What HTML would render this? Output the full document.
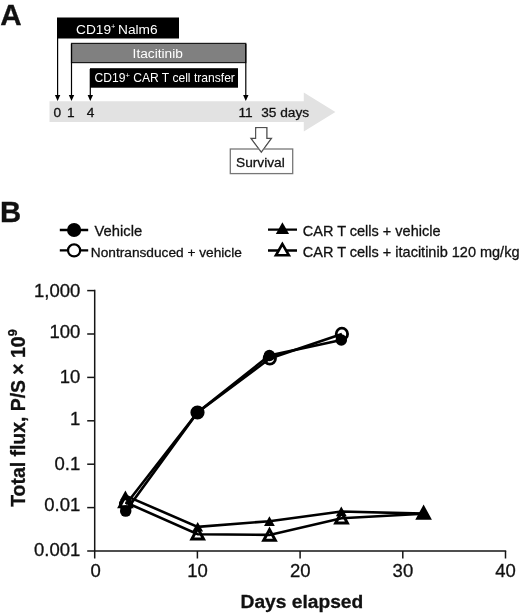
<!DOCTYPE html>
<html><head><meta charset="utf-8"><title>Figure</title>
<style>
html,body{margin:0;padding:0;background:#fff;}
body{width:520px;height:615px;overflow:hidden;}
svg{display:block;}
text{font-family:"Liberation Sans",Arial,Helvetica,sans-serif;fill:#111;stroke:#111;stroke-width:0.3px;}
.w{stroke:none;}
.tk{font-size:18.5px;}
.pa{font-size:13.7px;}
.lg{font-size:13.7px;}
.w{fill:#fff;}
.b{font-weight:bold;}
</style></head><body>
<svg width="520" height="615" viewBox="0 0 520 615">
<rect width="520" height="615" fill="#fff"/>
<!-- Panel A -->
<text x="0.3" y="25" class="b" style="font-size:29.6px">A</text>
<polygon points="49.5,101.3 303.8,101.3 303.8,92.4 335.4,112 303.8,131.6 303.8,121.9 49.5,121.9" fill="#e2e2e2"/>
<rect x="57" y="17.5" width="122" height="21" fill="#000"/>
<text x="76" y="33.7" class="pa w">CD19<tspan dy="-4.8" font-size="7.5">+</tspan><tspan dy="4.8" dx="-1.2"> Nalm6</tspan></text>
<rect x="71.5" y="43.4" width="174.3" height="19.2" fill="#808080" stroke="#1a1a1a" stroke-width="1.2"/>
<text x="157.7" y="58" text-anchor="middle" class="pa w">Itacitinib</text>
<rect x="90" y="68.2" width="148" height="19.5" fill="#000"/>
<text x="94.5" y="82" class="w" style="font-size:12.1px">CD19<tspan dy="-4" font-size="7.5">+</tspan><tspan dy="4"> CAR T cell transfer</tspan></text>
<path d="M57.6,18 V96.9" stroke="#000" stroke-width="1.2" fill="none"/><polygon points="54.9,95.10000000000001 60.300000000000004,95.10000000000001 57.6,100.9" fill="#000"/>
<path d="M71.5,44 V96.9" stroke="#000" stroke-width="1.2" fill="none"/><polygon points="68.8,95.10000000000001 74.2,95.10000000000001 71.5,100.9" fill="#000"/>
<path d="M90.3,69 V96.9" stroke="#000" stroke-width="1.2" fill="none"/><polygon points="87.6,95.10000000000001 93.0,95.10000000000001 90.3,100.9" fill="#000"/>
<path d="M245.8,44 V96.9" stroke="#000" stroke-width="1.2" fill="none"/><polygon points="243.10000000000002,95.10000000000001 248.5,95.10000000000001 245.8,100.9" fill="#000"/>
<text x="53.6" y="117.2" class="pa">0</text>
<text x="67" y="117.2" class="pa">1</text>
<text x="86.7" y="117.2" class="pa">4</text>
<text x="238.4" y="117.2" class="pa">11</text>
<text x="261.2" y="117.2" class="pa">35 days</text>
<polygon points="255.8,127.7 266.8,127.7 266.8,138.5 271.2,138.5 261.3,152 251.2,138.5 255.8,138.5" fill="#fff" stroke="#505050" stroke-width="1.5"/>
<rect x="230.3" y="149" width="62.4" height="24.6" fill="none" stroke="#777" stroke-width="1.3"/>
<polygon points="256.4,128.3 266.2,128.3 266.2,139.1 270,139.1 261.3,151 252.4,139.1 256.4,139.1" fill="#fff"/>
<text x="236" y="167" class="pa">Survival</text>
<!-- Panel B -->
<text x="0" y="222.2" class="b" style="font-size:29.3px">B</text>
<path d="M59.8,230 H88.2 M59.8,250.4 H88.2 M268,229.6 H297 M268,250.5 H297" stroke="#000" stroke-width="2.3" fill="none"/>
<circle cx="74.1" cy="230" r="7.1" fill="#000"/>
<circle cx="74.1" cy="250.4" r="6.05" fill="#fff" stroke="#000" stroke-width="2.2"/>
<polygon points="282.4,222.2 275.8,233.9 289.1,233.9" fill="#000"/>
<polygon points="282.4,244.0 275.9,255.3 288.9,255.3" fill="#fff" stroke="#000" stroke-width="2.6" stroke-linejoin="miter"/>
<text x="94.6" y="236" class="lg" style="font-size:14.75px">Vehicle</text>
<text x="90.8" y="256.6" class="lg">Nontransduced + vehicle</text>
<text x="302.8" y="236" class="lg" style="font-size:14.5px">CAR T cells + vehicle</text>
<text x="302.8" y="256.6" class="lg" style="font-size:14.5px">CAR T cells + itacitinib 120 mg/kg</text>
<path d="M94.7,289.85 V558.5" stroke="#151515" stroke-width="1.5" fill="none"/>
<path d="M87.2,551.0 H506.2" stroke="#151515" stroke-width="1.5" fill="none"/>
<path d="M87.2,290.6 H94.7" stroke="#151515" stroke-width="1.5"/>
<text x="80.3" y="297.3" text-anchor="end" class="tk">1,000</text>
<path d="M87.2,334.0 H94.7" stroke="#151515" stroke-width="1.5"/>
<text x="80.3" y="338.0" text-anchor="end" class="tk">100</text>
<path d="M87.2,377.4 H94.7" stroke="#151515" stroke-width="1.5"/>
<text x="80.3" y="383.4" text-anchor="end" class="tk">10</text>
<path d="M87.2,420.8 H94.7" stroke="#151515" stroke-width="1.5"/>
<text x="80.3" y="425.2" text-anchor="end" class="tk">1</text>
<path d="M87.2,464.2 H94.7" stroke="#151515" stroke-width="1.5"/>
<text x="80.3" y="469.7" text-anchor="end" class="tk">0.1</text>
<path d="M87.2,507.6 H94.7" stroke="#151515" stroke-width="1.5"/>
<text x="80.3" y="511.0" text-anchor="end" class="tk">0.01</text>
<text x="80.3" y="555.5" text-anchor="end" class="tk">0.001</text>
<path d="M197.4,551.0 V558.5" stroke="#151515" stroke-width="1.5"/>
<path d="M300.1,551.0 V558.5" stroke="#151515" stroke-width="1.5"/>
<path d="M402.8,551.0 V558.5" stroke="#151515" stroke-width="1.5"/>
<path d="M505.5,551.0 V558.5" stroke="#151515" stroke-width="1.5"/>
<text x="95.6" y="577.1" text-anchor="middle" class="tk">0</text>
<text x="197.5" y="577.1" text-anchor="middle" class="tk">10</text>
<text x="300.2" y="577.1" text-anchor="middle" class="tk">20</text>
<text x="402.9" y="577.1" text-anchor="middle" class="tk">30</text>
<text x="505.6" y="577.1" text-anchor="middle" class="tk">40</text>
<text transform="translate(24.6,506.8) rotate(-90)" class="b" style="font-size:19.4px">Total flux, P/S × 10<tspan dy="-8" font-size="12.5">9</tspan></text>
<text x="240.6" y="608" class="b" style="font-size:19.2px">Days elapsed</text>
<polyline points="125.4,502.2 197.7,534.3 269.5,534.9 341.5,518.3 423.6,513.7" fill="none" stroke="#000" stroke-width="2.6"/>
<polyline points="125.4,495.6 197.7,526.9 269.4,521.2 341.3,511.5 423.6,513.6" fill="none" stroke="#000" stroke-width="2.6"/>
<polyline points="126.0,504.2 197.5,412.5 269.8,358.5 341.9,333.9" fill="none" stroke="#000" stroke-width="2.6"/>
<polyline points="125.7,511.1 197.5,412.5 269.4,355.5 341.3,340.0" fill="none" stroke="#000" stroke-width="2.6"/>
<polygon points="125.4,496.1 119.6,506.8 131.2,506.8" fill="none" stroke="#000" stroke-width="3.0" stroke-linejoin="miter"/>
<polygon points="197.7,528.2 191.9,538.9 203.5,538.9" fill="none" stroke="#000" stroke-width="3.0" stroke-linejoin="miter"/>
<polygon points="269.5,529.6 263.7,540.3 275.3,540.3" fill="none" stroke="#000" stroke-width="3.0" stroke-linejoin="miter"/>
<polygon points="341.5,512.2 335.7,522.9 347.3,522.9" fill="none" stroke="#000" stroke-width="3.0" stroke-linejoin="miter"/>
<polygon points="423.6,507.6 417.8,518.3 429.4,518.3" fill="none" stroke="#000" stroke-width="3.0" stroke-linejoin="miter"/>
<polygon points="125.4,490.6 120.0,500.3 130.8,500.3" fill="#000"/>
<polygon points="197.7,521.9 192.3,531.6 203.1,531.6" fill="#000"/>
<polygon points="269.4,516.2 264.0,525.9 274.8,525.9" fill="#000"/>
<polygon points="341.3,506.5 335.9,516.2 346.7,516.2" fill="#000"/>
<polygon points="423.6,508.6 418.2,518.3 429.0,518.3" fill="#000"/>
<circle cx="126.0" cy="504.2" r="5.7" fill="none" stroke="#000" stroke-width="2.8"/>
<circle cx="197.5" cy="412.5" r="5.7" fill="none" stroke="#000" stroke-width="2.8"/>
<circle cx="269.8" cy="358.5" r="5.7" fill="none" stroke="#000" stroke-width="2.8"/>
<circle cx="341.9" cy="333.9" r="5.7" fill="none" stroke="#000" stroke-width="2.8"/>
<circle cx="125.7" cy="511.1" r="5.75" fill="#000"/>
<circle cx="197.5" cy="412.5" r="5.75" fill="#000"/>
<circle cx="269.4" cy="355.5" r="5.75" fill="#000"/>
<circle cx="341.3" cy="340.0" r="5.75" fill="#000"/>
</svg>
</body></html>
